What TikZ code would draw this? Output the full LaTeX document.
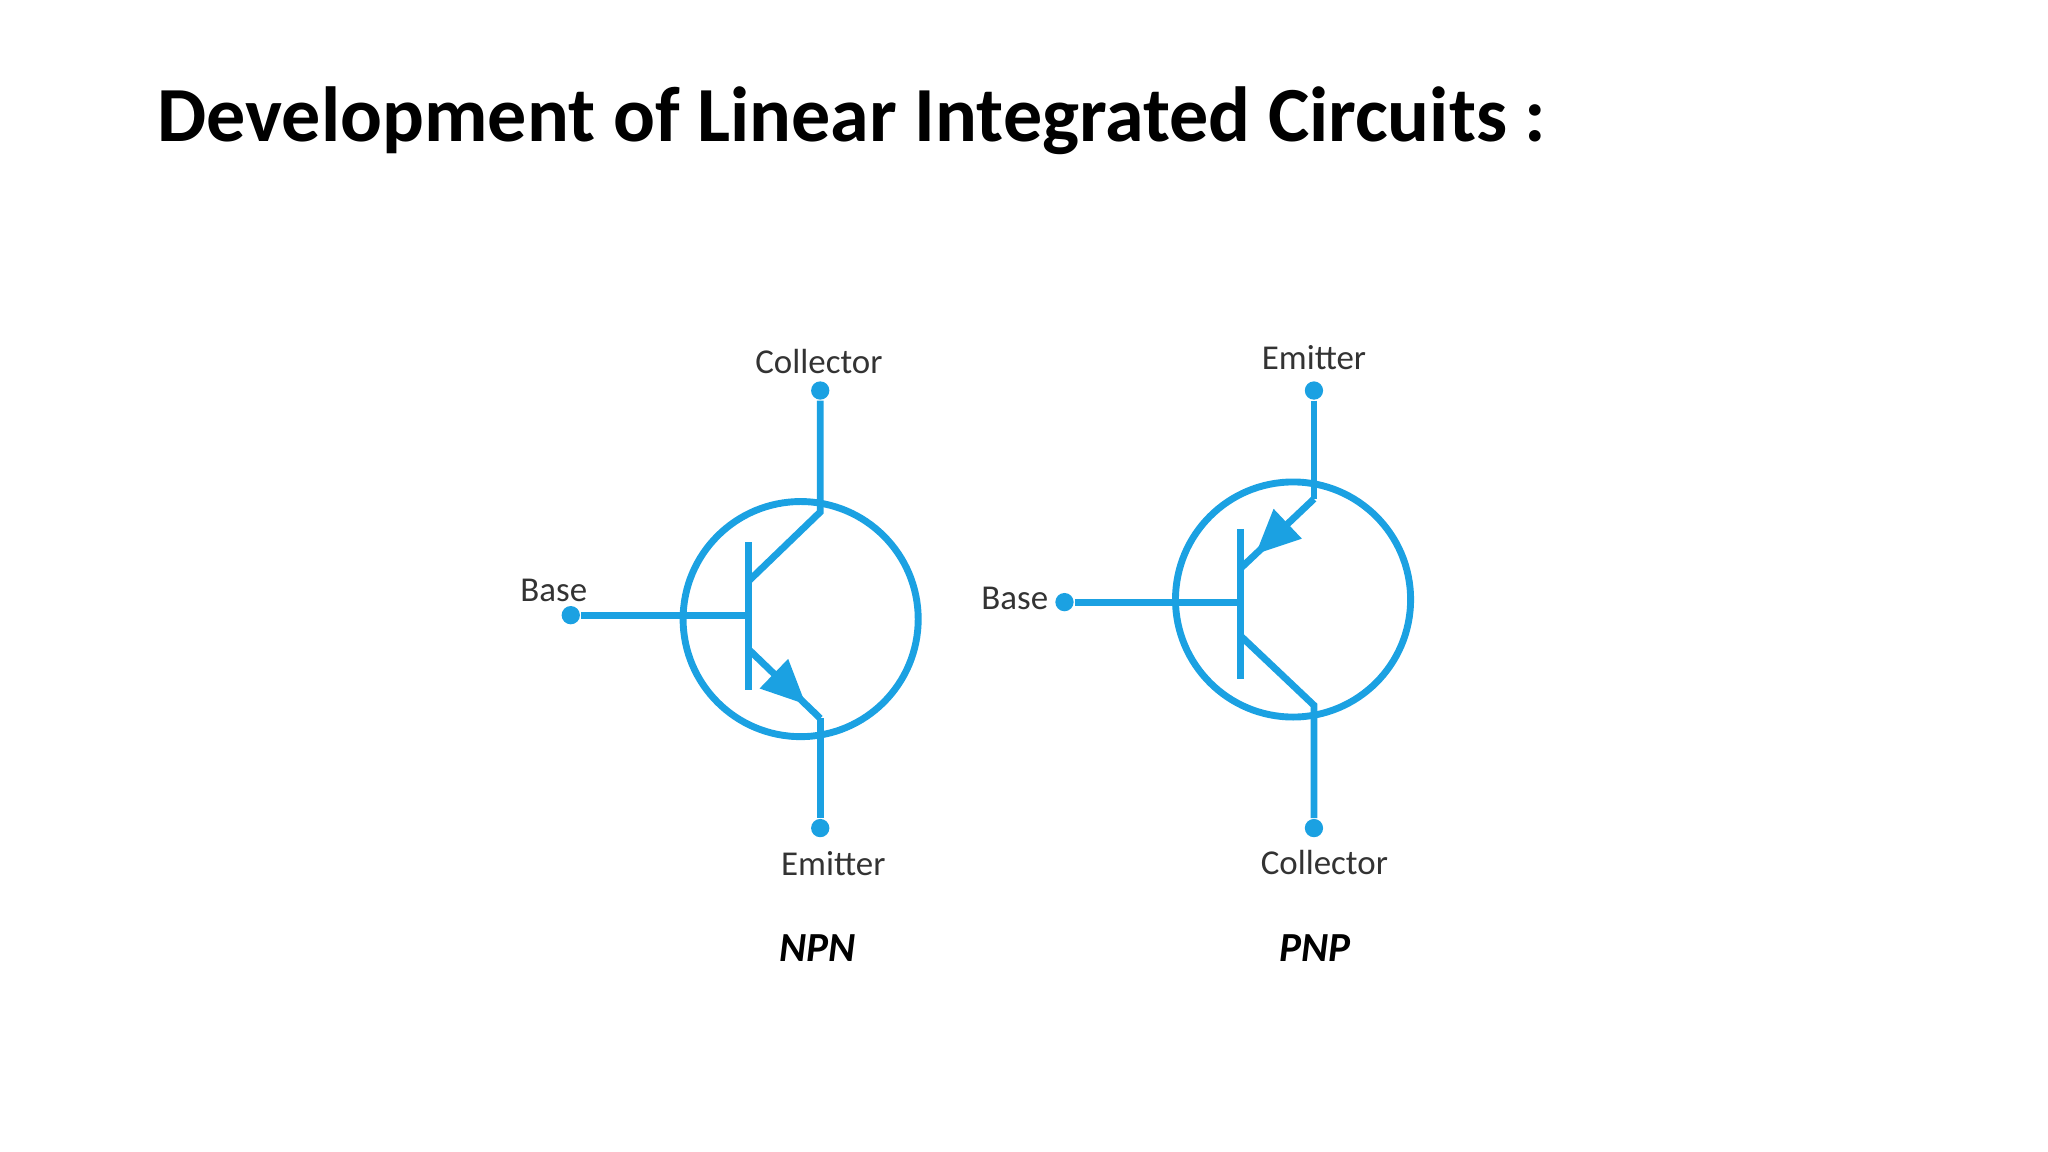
\documentclass[tikz,border=0pt]{standalone}
\usepackage{fontspec}
\setmainfont{Carlito}
\usetikzlibrary{arrows.meta,decorations.markings}
\definecolor{wire}{HTML}{1BA1E2}
\tikzset{font={\fontsize{7.6pt}{9}\selectfont},
  lead/.style={draw=wire,line width=1.5pt},
  pin/.style={circle,fill=wire,inner sep=0pt,minimum size=1.4mm},
  label/.style={text=black!80},
  arrowed/.style={lead,postaction={decorate},decoration={markings,
    mark=at position 0.8 with {\arrow{Triangle[length=3.4mm,width=3mm]}}}}}

\begin{document}
\begin{tikzpicture}[x=0.01cm,y=-0.01cm]
      \useasboundingbox (0,0) rectangle (1568,882);
      %title
      \node[anchor=base west,inner sep=0pt,font={\fontsize{17pt}{19}\selectfont\bfseries}] (title) at (120,108) {Development of Linear Integrated Circuits :};
      %NPN
      \draw[lead] (613,474) circle (90);
      \node[pin] (nc) at (628,299) {};
      \node[pin] (nb) at (437,471) {};
      \node[pin] (ne) at (628,634) {};
      \coordinate (nc1) at (628,392);
      \coordinate (ne1) at (628,550);
      \coordinate (ntop) at (573,415);
      \coordinate (nbot) at (573,528);
      \draw[lead] (ntop) -- (nbot);
      \draw[lead] (nc) -- (nc1) -- (573,445);
      \draw[lead] (nb) -- (573,471);
      \draw[arrowed] (573,497) -- (ne1);
      \draw[lead] (ne1) -- (ne);
      \node[label] (nct) at (627,277) {Collector};
      \node[label] (nbt) at (424,452) {Base};
      \node[label] (net) at (638,661) {Emitter};
      \node[font={\fontsize{9pt}{10}\selectfont\bfseries\itshape}] (npn) at (626,726) {NPN};
      %PNP
      \draw[lead] (990,459) circle (90);
      \node[pin] (pe) at (1006,299) {};
      \node[pin] (pb) at (815,461) {};
      \node[pin] (pc) at (1006,634) {};
      \coordinate (pe1) at (1006,382);
      \coordinate (pc1) at (1006,540);
      \coordinate (ptop) at (950,405);
      \coordinate (pbot) at (950,520);
      \draw[lead] (ptop) -- (pbot);
      \draw[lead] (pe) -- (pe1);
      \draw[arrowed] (pe1) -- (950,435);
      \draw[lead] (pb) -- (950,461);
      \draw[lead] (950,487) -- (pc1) -- (pc);
      \node[label] (pet) at (1006,274) {Emitter};
      \node[label] (pbt) at (777,458) {Base};
      \node[label] (pct) at (1014,660) {Collector};
      \node[font={\fontsize{9pt}{10}\selectfont\bfseries\itshape}] (pnp) at (1007,726) {PNP};
\end{tikzpicture}
\end{document}
